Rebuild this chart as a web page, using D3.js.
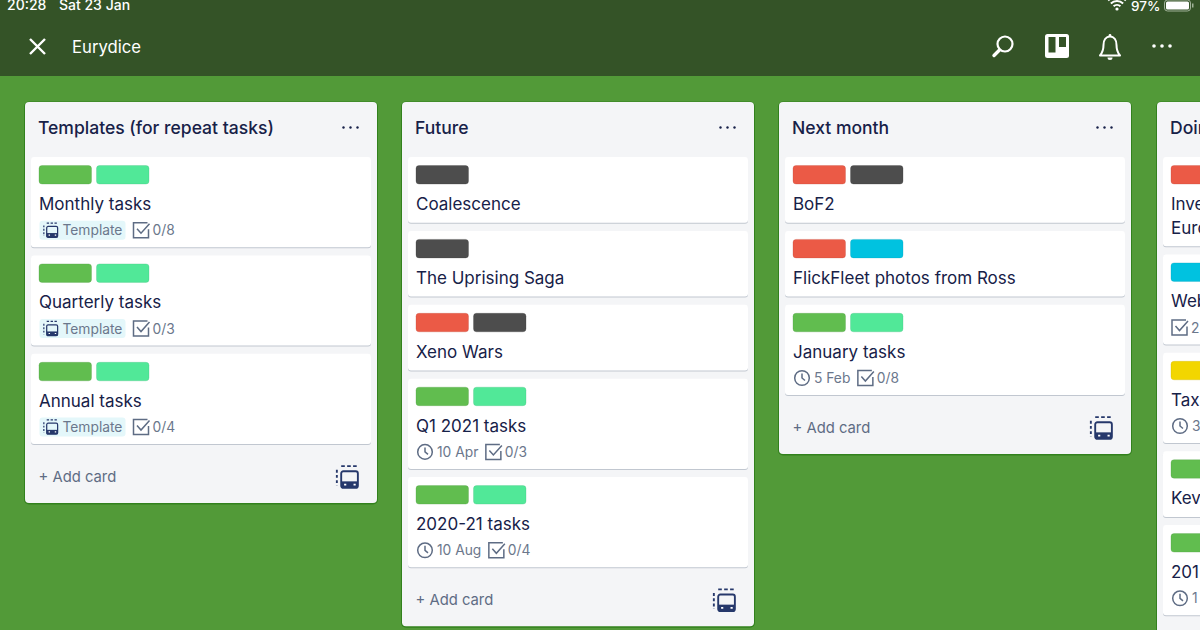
<!DOCTYPE html>
<html><head><meta charset="utf-8">
<style>html,body{margin:0;padding:0;background:#529a38;overflow:hidden}svg{display:block;font-family:Inter,"Noto Sans",sans-serif}</style>
<script src="https://cdn.jsdelivr.net/npm/d3@7"></script></head><body>
<svg id="c" width="1200" height="630"></svg>
<script>
const listNames=["Templates (for repeat tasks)","Future","Next month","Doin"];
const G="#61bd4f",M="#51e898",R="#eb5a46",K="#4d4d4d",C="#00c2e0",Y="#f2d600";
const cardsTemplates=[
 {t:["Monthly tasks"],l:[G,M],tpl:1,chk:"0/8"},
 {t:["Quarterly tasks"],l:[G,M],tpl:1,chk:"0/3"},
 {t:["Annual tasks"],l:[G,M],tpl:1,chk:"0/4"}];
const cardsFuture=[
 {t:["Coalescence"],l:[K]},
 {t:["The Uprising Saga"],l:[K]},
 {t:["Xeno Wars"],l:[R,K]},
 {t:["Q1 2021 tasks"],l:[G,M],due:"10 Apr",chk:"0/3"},
 {t:["2020-21 tasks"],l:[G,M],due:"10 Aug",chk:"0/4"}];
const cardsNext=[
 {t:["BoF2"],l:[R,K]},
 {t:["FlickFleet photos from Ross"],l:[R,C]},
 {t:["January tasks"],l:[G,M],due:"5 Feb",chk:"0/8"}];
const cardsDoing=[
 {t:["Inve","Euro"],l:[R]},
 {t:["Web"],l:[C],chk:"2"},
 {t:["Tax"],l:[Y],due:"3"},
 {t:["Kev"],l:[G]},
 {t:["201"],l:[G],due:"1"}];
const allCards=[cardsTemplates,cardsFuture,cardsNext,cardsDoing];

const svg=d3.select("#c");
const W=1200,H=630;
const INK="#172148",ICON="#26386b",SUB="#6b778c",SUBI="#5e6c84",HEAD="#345327";

svg.append("rect").attr("width",W).attr("height",H).attr("fill","#529a38");
svg.append("rect").attr("width",W).attr("height",76).attr("fill",HEAD);

// status bar
const T=(x,y,s,size,fill,anchor,weight)=>svg.append("text").attr("x",x).attr("y",y).attr("font-size",size).attr("fill",fill).attr("text-anchor",anchor||"start").attr("font-weight",weight||400).text(s);
T(7,10,"20:28",14,"#fff","start",500);
T(59,10,"Sat 23 Jan",14,"#fff","start",500);
T(1131,11,"97%",13.5,"#fff","start",500);
T(72,53,"Eurydice",16.7,"#fff");

// wifi
const wifi=svg.append("g").attr("transform","translate(1117,10)").attr("fill","none").attr("stroke","#fff").attr("stroke-width",2);
[13,9,5].forEach(r=>wifi.append("path").attr("d",d3.arc()({innerRadius:r,outerRadius:r,startAngle:-0.75,endAngle:0.75})));
wifi.append("circle").attr("r",1.6).attr("cy",-1).attr("fill","#fff").attr("stroke","none");
// battery
svg.append("rect").attr("x",1164.5).attr("y",0).attr("width",26).attr("height",11).attr("rx",3).attr("fill","none").attr("stroke","#9fb198").attr("stroke-width",1);
svg.append("rect").attr("x",1166).attr("y",1.5).attr("width",23).attr("height",8).attr("rx",1.5).attr("fill","#fff");
svg.append("rect").attr("x",1192).attr("y",3.5).attr("width",1.5).attr("height",4).attr("fill","#9fb198");

// header icons
svg.append("path").attr("d","M30 39L45 54M45 39L30 54").attr("stroke","#fff").attr("stroke-width",2.4).attr("fill","none");
const s=svg.append("g").attr("fill","none").attr("stroke","#fff");
s.append("circle").attr("cx",1005).attr("cy",44).attr("r",7.5).attr("stroke-width",2.2);
s.append("path").attr("d","M999.5 50L994 55.5").attr("stroke-width",3.4).attr("stroke-linecap","round");
svg.append("rect").attr("x",1045).attr("y",34).attr("width",24).attr("height",24).attr("rx",2.5).attr("fill","#fff");
svg.append("rect").attr("x",1048.5).attr("y",37).attr("width",7).attr("height",15.5).attr("fill",HEAD);
svg.append("rect").attr("x",1059).attr("y",37).attr("width",7).attr("height",10).attr("fill",HEAD);
svg.append("path").attr("d","M1100 55.5C1103 52 1103.5 49 1103.5 45C1103.5 40 1106 36.5 1110 36.5C1114 36.5 1116.5 40 1116.5 45C1116.5 49 1117 52 1120 55.5Z").attr("fill","none").attr("stroke","#fff").attr("stroke-width",2).attr("stroke-linejoin","round");
svg.append("circle").attr("cx",1110).attr("cy",35.5).attr("r",1.4).attr("fill","#fff");
svg.append("path").attr("d","M1107.5 57.5a2.5 2.5 0 0 0 5 0Z").attr("fill","#fff");
[1154,1162,1170].forEach(x=>svg.append("circle").attr("cx",x).attr("cy",46).attr("r",1.8).attr("fill","#fff"));

// scales
const xList=d3.scaleLinear().domain([0,1]).range([25,402]);
const listW=352, pad=6;
const CARD_BASE=65.7, META=24.5, LINE=23.5, GAP=8.2, FIRST=157;

function cardH(c){return CARD_BASE+((c.chk||c.due||c.tpl)?META:0)+(c.t.length-1)*LINE;}
function icoClock(g,x,y){
 g.append("circle").attr("cx",x).attr("cy",y).attr("r",7.3).attr("fill","none").attr("stroke",SUBI).attr("stroke-width",1.5);
 g.append("path").attr("d",`M${x} ${y-4.5}V${y}L${x+3} ${y+2.5}`).attr("fill","none").attr("stroke",SUBI).attr("stroke-width",1.5);
}
function icoCheck(g,x,y){
 g.append("path").attr("d",`M${x+14} ${y-7.5}H${x}V${y+7.5}H${x+15}V${y-1}`).attr("fill","none").attr("stroke",SUBI).attr("stroke-width",1.5);
 g.append("path").attr("d",`M${x+3.5} ${y-1.5}L${x+7.5} ${y+3}L${x+16} ${y-6.5}`).attr("fill","none").attr("stroke",SUBI).attr("stroke-width",1.5);
}
function icoTemplate(g,x,y,k,col){
 const t=g.append("g").attr("transform",`translate(${x},${y}) scale(${k})`).attr("fill","none").attr("stroke",col);
 t.append("path").attr("d","M-7 -5V6").attr("stroke-width",1.3).attr("stroke-dasharray","2 1.6");
 t.append("path").attr("d","M-4 -7.5H7").attr("stroke-width",1.3).attr("stroke-dasharray","2.5 1.6");
 t.append("rect").attr("x",-4).attr("y",-4).attr("width",11.5).attr("height",11.5).attr("rx",1.5).attr("stroke-width",1.3);
 t.append("rect").attr("x",-4).attr("y",3).attr("width",11.5).attr("height",4.5).attr("fill",col).attr("stroke","none");
 t.append("path").attr("d","M-2 5.2H-.5M4.5 5.2H6").attr("stroke","#fff").attr("stroke-width",1.2);
}

listNames.forEach((name,i)=>{
 const x=xList(i)+(i===3?1:0);
 const g=svg.append("g").attr("transform",`translate(${x},102)`);
 const cards=allCards[i];
 const total=d3.sum(cards,cardH)+GAP*(cards.length-1);
 const listH=i===3?600:FIRST-102+total+59;
 g.append("rect").attr("x",-1).attr("y",-.5).attr("width",listW+2).attr("height",listH+2).attr("rx",5).attr("fill","#2a7a17").attr("opacity",.8);
 g.append("rect").attr("width",listW).attr("height",listH).attr("rx",4).attr("fill","#f4f5f7");
 g.append("text").attr("x",13).attr("y",31.5).attr("font-size",17.55).attr("font-weight",500).attr("fill",INK).text(name);
 if(i<3)[318.5,325.5,332.5].forEach(d=>g.append("circle").attr("cx",d).attr("cy",25.5).attr("r",1.2).attr("fill",INK));
 let y=FIRST-102;
 cards.forEach(c=>{
  const h=cardH(c), cg=g.append("g").attr("transform",`translate(${pad},${y})`);
  cg.append("rect").attr("y",1).attr("width",listW-12).attr("height",h).attr("rx",3).attr("fill","#c1c7d0");
  cg.append("rect").attr("width",listW-12).attr("height",h).attr("rx",3).attr("fill","#fff");
  c.l.forEach((col,j)=>cg.append("rect").attr("x",8+j*57.5).attr("y",8.5).attr("width",52.5).attr("height",18.5).attr("rx",3).attr("fill",col).attr("stroke",d3.color(col).darker(.6)).attr("stroke-opacity",.35).attr("stroke-width",.8));
  c.t.forEach((line,j)=>cg.append("text").attr("x",8).attr("y",53+j*LINE).attr("font-size",17).attr("fill",INK).text(line));
  const my=cardH({t:c.t})+7.5;
  let cx=9;
  if(c.tpl){
   cg.append("rect").attr("x",8.5).attr("y",my-9.5).attr("width",86).attr("height",19).attr("rx",3).attr("fill","#e4f7fa");
   icoTemplate(cg,19.5,my,.95,ICON);
   cg.append("text").attr("x",31.5).attr("y",my+5).attr("font-size",13.8).attr("fill",SUB).text("Template");
   cx=102.5;
  }
  if(c.due){
   icoClock(cg,cx+8,my);
   const d=cg.append("text").attr("x",cx+20).attr("y",my+5).attr("font-size",13.8).attr("fill",SUB).text(c.due);
   cx=cx+20+d.node().getComputedTextLength()+7.5;
  }
  if(c.chk){
   icoCheck(cg,cx,my);
   cg.append("text").attr("x",cx+19).attr("y",my+5).attr("font-size",13.8).attr("fill",SUB).text(c.chk);
  }
  y+=h+GAP;
 });
 if(i<3){
  const by=y-GAP;
  g.append("text").attr("x",13.5).attr("y",by+38).attr("font-size",14.8).attr("fill",SUBI).text("+ Add card");
  icoTemplate(g,322,by+33,1.45,ICON);
 }
});
</script></body></html>
